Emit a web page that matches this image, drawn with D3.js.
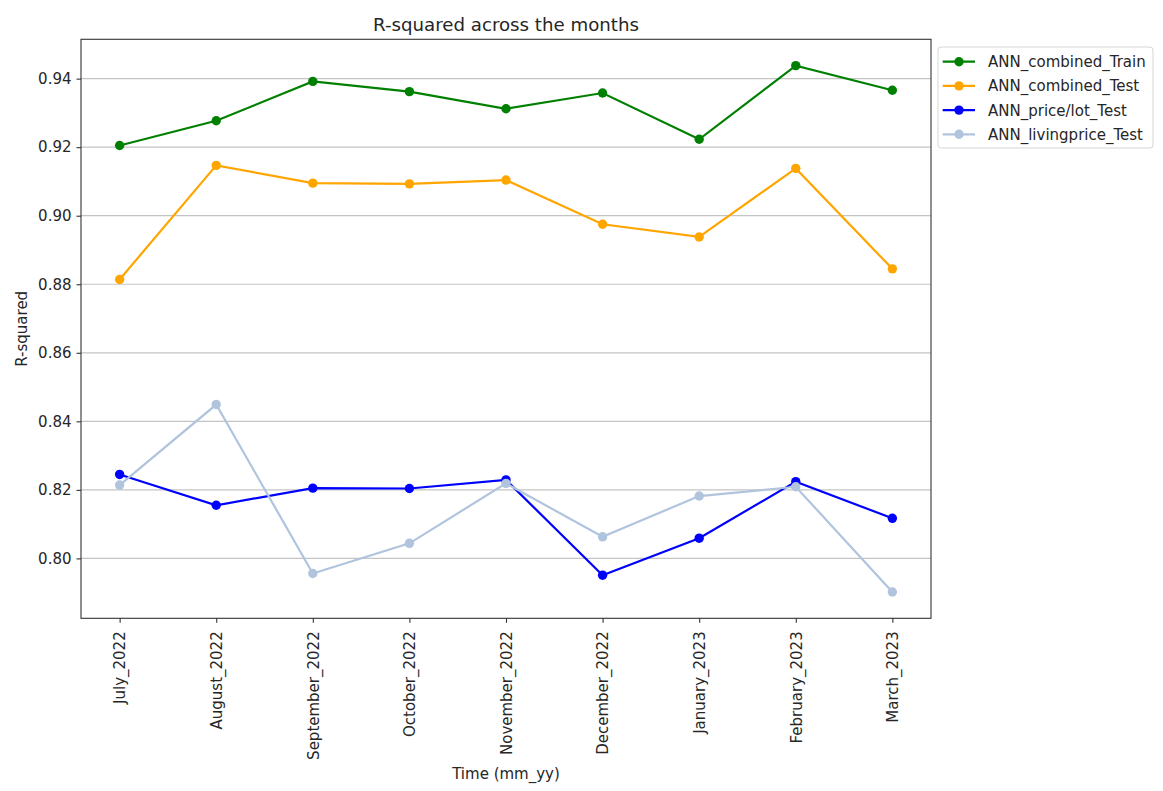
<!DOCTYPE html>
<html>
<head>
<meta charset="utf-8">
<script src="https://cdn.jsdelivr.net/npm/d3@7"></script>
<style>
  body { margin: 0; background: #fff; }
  svg { font-family: "DejaVu Sans", sans-serif; }
</style>
</head>
<body>
<svg id="chart" width="1163" height="791"></svg>
<script>
// months on the x axis
const months = ["July_2022", "August_2022", "September_2022", "October_2022", "November_2022",
  "December_2022", "January_2023", "February_2023", "March_2023"];

// R-squared per series
const combinedTrain = [0.9205, 0.9277, 0.9392, 0.9362, 0.9312, 0.9358, 0.9223, 0.9438, 0.9366];
const combinedTest = [0.8814, 0.9147, 0.9095, 0.9093, 0.9104, 0.8975, 0.8938, 0.9138, 0.8845];
const priceLotTest = [0.8245, 0.8155, 0.8205, 0.8204, 0.8229, 0.7951, 0.8059, 0.8224, 0.8117];
const livingPriceTest = [0.8214, 0.8449, 0.7956, 0.8044, 0.8219, 0.8063, 0.8182, 0.8209, 0.7902];

const seriesNames = ["ANN_combined_Train", "ANN_combined_Test", "ANN_price/lot_Test", "ANN_livingprice_Test"];
const seriesColors = ["green", "orange", "blue", "lightsteelblue"];
const yTicks = [0.80, 0.82, 0.84, 0.86, 0.88, 0.90, 0.92, 0.94];

const series = [combinedTrain, combinedTest, priceLotTest, livingPriceTest].map((vals, i) => ({
  name: seriesNames[i],
  color: seriesColors[i],
  values: vals
}));

const margin = {top: 39.3, right: 232, bottom: 172.7, left: 81};
const width = 1163, height = 791;
const innerW = width - margin.left - margin.right;
const innerH = height - margin.top - margin.bottom;

const svg = d3.select("#chart");
const g = svg.append("g").attr("transform", `translate(${margin.left},${margin.top})`);

// x like matplotlib: index positions with 5% padding
const x = d3.scaleLinear()
  .domain([-0.4, months.length - 1 + 0.4])
  .range([0, innerW]);

const allVals = series.flatMap(s => s.values);
const [ymin, ymax] = d3.extent(allVals);
const pad = (ymax - ymin) * 0.05;
const y = d3.scaleLinear()
  .domain([ymin - pad, ymax + pad])
  .range([innerH, 0]);

// horizontal grid
g.append("g")
  .selectAll("line")
  .data(yTicks)
  .enter().append("line")
  .attr("x1", 0).attr("x2", innerW)
  .attr("y1", d => y(d)).attr("y2", d => y(d))
  .attr("stroke", "#c4c4c4")
  .attr("stroke-width", 1.2);

// y axis
const yAxis = g.append("g")
  .call(d3.axisLeft(y).tickValues(yTicks).tickFormat(d3.format(".2f")).tickSize(4.5).tickPadding(5));
yAxis.select(".domain").remove();
yAxis.selectAll("line").attr("stroke", "#333").attr("stroke-width", 1.1);
yAxis.selectAll("text").attr("font-size", 15).attr("fill", "#262626").attr("font-family", "DejaVu Sans");

// x axis
const xAxis = g.append("g")
  .attr("transform", `translate(0,${innerH})`)
  .call(d3.axisBottom(x).tickValues(d3.range(months.length)).tickFormat(i => months[i]).tickSize(4.5).tickPadding(0));
xAxis.select(".domain").remove();
xAxis.selectAll("line").attr("stroke", "#333").attr("stroke-width", 1.1);
xAxis.selectAll("text")
  .attr("font-size", 15)
  .attr("fill", "#262626")
  .attr("font-family", "DejaVu Sans")
  .attr("text-anchor", "end")
  .attr("dy", "0.35em")
  .attr("transform", "translate(0,13) rotate(-90)")
  .attr("y", 0)
  .attr("x", 0);

// lines and markers
const line = d3.line()
  .x((d, i) => x(i))
  .y(d => y(d));

const sg = g.append("g")
  .selectAll("g")
  .data(series)
  .enter().append("g");

sg.append("path")
  .attr("fill", "none")
  .attr("stroke", d => d.color)
  .attr("stroke-width", 2.2)
  .attr("d", d => line(d.values));

sg.selectAll("circle")
  .data(d => d.values.map((v, i) => ({v, i, color: d.color})))
  .enter().append("circle")
  .attr("cx", d => x(d.i))
  .attr("cy", d => y(d.v))
  .attr("r", 4.7)
  .attr("fill", d => d.color);

// frame
g.append("rect")
  .attr("width", innerW).attr("height", innerH)
  .attr("fill", "none")
  .attr("stroke", "#333")
  .attr("stroke-width", 1.1);

// title and axis labels
svg.append("text")
  .attr("x", margin.left + innerW / 2)
  .attr("y", 31)
  .attr("text-anchor", "middle")
  .attr("font-size", 18.2)
  .attr("fill", "#262626")
  .text("R-squared across the months");

svg.append("text")
  .attr("x", margin.left + innerW / 2)
  .attr("y", 779)
  .attr("text-anchor", "middle")
  .attr("font-size", 15)
  .attr("fill", "#262626")
  .text("Time (mm_yy)");

svg.append("text")
  .attr("transform", `translate(27,${margin.top + innerH / 2}) rotate(-90)`)
  .attr("text-anchor", "middle")
  .attr("font-size", 15)
  .attr("fill", "#262626")
  .text("R-squared");

// legend
const lg = svg.append("g").attr("transform", "translate(938,47)");
lg.append("rect")
  .attr("width", 215).attr("height", 101)
  .attr("rx", 3)
  .attr("fill", "#fff")
  .attr("stroke", "#d6d6d6");

const item = lg.selectAll("g.item")
  .data(series)
  .enter().append("g")
  .attr("class", "item")
  .attr("transform", (d, i) => `translate(0,${14.7 + i * 24.2})`);

item.append("line")
  .attr("x1", 4.7).attr("x2", 37)
  .attr("stroke", d => d.color)
  .attr("stroke-width", 2.2);

item.append("circle")
  .attr("cx", 21).attr("r", 4.7)
  .attr("fill", d => d.color);

item.append("text")
  .attr("x", 50)
  .attr("dy", "0.36em")
  .attr("font-size", 15)
  .attr("fill", "#262626")
  .text(d => d.name);
</script>
</body>
</html>
